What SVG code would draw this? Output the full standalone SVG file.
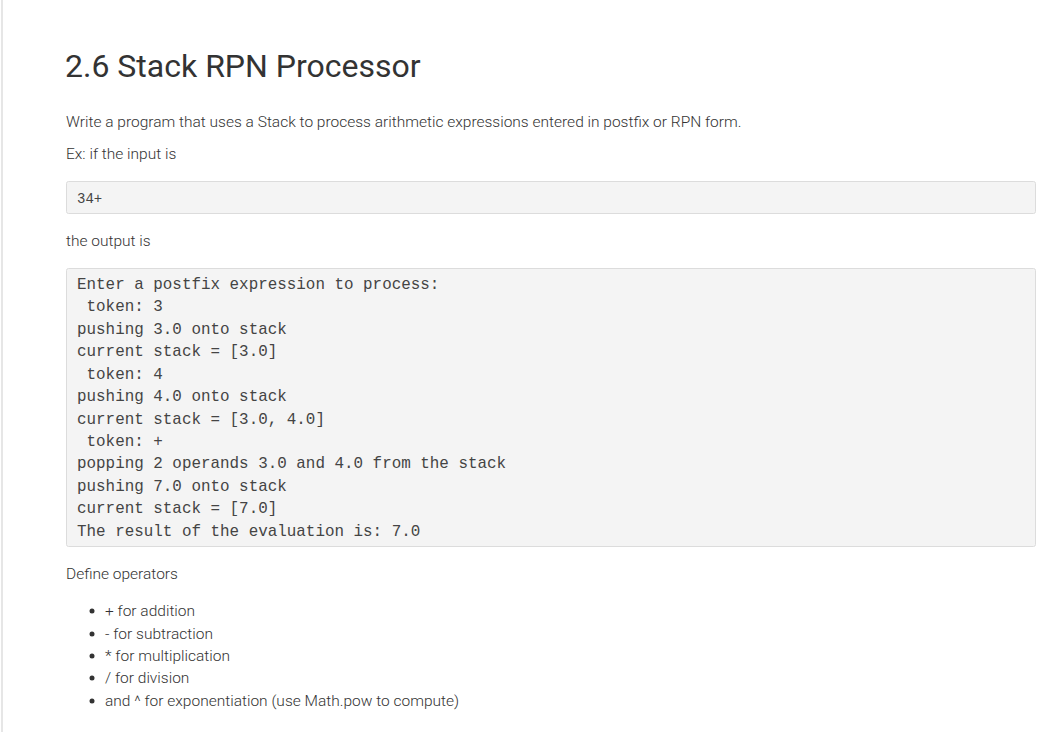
<svg xmlns="http://www.w3.org/2000/svg" width="1058" height="732" viewBox="0 0 1058 732">
<style>
.t{font-family:Roboto,"Liberation Sans",sans-serif;font-weight:300;fill:#333;font-size:15.5px}
.h{font-family:Roboto,"Liberation Sans",sans-serif;font-weight:400;fill:#333;font-size:32px}
.m{font-family:"Liberation Mono","Courier New",monospace;fill:#444;font-size:15.9px}
.box{fill:#f4f4f4;stroke:#dcdcdc;stroke-width:1}
</style>
<rect width="1058" height="732" fill="#fff"/>
<rect x="1" y="0" width="2" height="732" fill="#e6e6e6"/>
<text class="h" x="65" y="77">2.6 Stack RPN Processor</text>
<text class="t" x="66" y="127">Write a program that uses a Stack to process arithmetic expressions entered in postfix or RPN form.</text>
<text class="t" x="66" y="159">Ex: if the input is</text>
<rect class="box" x="66.5" y="181.5" width="969" height="32" rx="2"/>
<text class="m" x="77" y="203" style="font-size:14px">34+</text>
<text class="t" x="66" y="246">the output is</text>
<rect class="box" x="66.5" y="268.5" width="969" height="278" rx="2"/>
<g class="m">
<text x="77" y="289">Enter a postfix expression to process:</text>
<text x="77" y="311" xml:space="preserve"> token: 3</text>
<text x="77" y="334">pushing 3.0 onto stack</text>
<text x="77" y="356">current stack = [3.0]</text>
<text x="77" y="379" xml:space="preserve"> token: 4</text>
<text x="77" y="401">pushing 4.0 onto stack</text>
<text x="77" y="424">current stack = [3.0, 4.0]</text>
<text x="77" y="446" xml:space="preserve"> token: +</text>
<text x="77" y="468">popping 2 operands 3.0 and 4.0 from the stack</text>
<text x="77" y="491">pushing 7.0 onto stack</text>
<text x="77" y="513">current stack = [7.0]</text>
<text x="77" y="536">The result of the evaluation is: 7.0</text>
</g>
<text class="t" x="66" y="579">Define operators</text>
<g fill="#333">
<circle cx="92" cy="611" r="2.5"/><circle cx="92" cy="634" r="2.5"/><circle cx="92" cy="656" r="2.5"/><circle cx="92" cy="678" r="2.5"/><circle cx="92" cy="701" r="2.5"/>
</g>
<text class="t" x="105" y="616">+ for addition</text>
<text class="t" x="105" y="639">- for subtraction</text>
<text class="t" x="105" y="661">* for multiplication</text>
<text class="t" x="105" y="683">/ for division</text>
<text class="t" x="105" y="706">and ^ for exponentiation (use Math.pow to compute)</text>
</svg>
